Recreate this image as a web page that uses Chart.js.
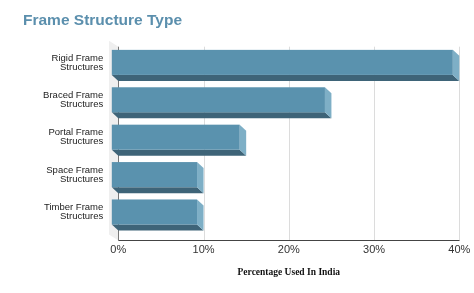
<!DOCTYPE html>
<html><head><meta charset="utf-8">
<script src="https://cdn.jsdelivr.net/npm/chart.js@4"></script>
<style>html,body{margin:0;padding:0;background:#fff}canvas{display:block}</style>
</head><body>
<canvas id="c" width="474" height="293"></canvas>
<script>
const categories = [['Rigid Frame','Structures'],['Braced Frame','Structures'],['Portal Frame','Structures'],['Space Frame','Structures'],['Timber Frame','Structures']];
const usage = [40, 25, 15, 10, 10];
const xTicks = [0, 10, 20, 30, 40];

const DX = 6.5, DY = 6;
const bar3d = {
  id: 'bar3d',
  beforeDatasetsDraw(chart) {
    const ctx = chart.ctx, a = chart.chartArea, xs = chart.scales.x;
    const floor = Math.round(a.bottom + 3.3) + 0.5, top = a.top - 3;
    const x0 = Math.round(xs.getPixelForValue(0)) + 0.5;
    ctx.save();
    ctx.fillStyle = '#efefef';
    ctx.beginPath();
    ctx.moveTo(x0 - 9.5, top - 6);
    ctx.lineTo(x0, top);
    ctx.lineTo(x0, floor);
    ctx.lineTo(x0 - 9.5, floor - 6);
    ctx.closePath(); ctx.fill();
    ctx.strokeStyle = '#dcdcdc'; ctx.lineWidth = 1;
    xTicks.forEach(v => {
      if (v === 0) return;
      const px = Math.round(xs.getPixelForValue(v)) + 0.5;
      ctx.beginPath(); ctx.moveTo(px, top); ctx.lineTo(px, floor); ctx.stroke();
    });
    ctx.strokeStyle = '#777';
    ctx.beginPath(); ctx.moveTo(x0, top); ctx.lineTo(x0, floor); ctx.stroke();
    ctx.strokeStyle = '#444';
    ctx.beginPath(); ctx.moveTo(x0, floor); ctx.lineTo(Math.round(a.right) + 0.5, floor); ctx.stroke();
    ctx.restore();
  },
  afterDatasetsDraw(chart) {
    const ctx = chart.ctx;
    ctx.save();
    chart.getDatasetMeta(0).data.forEach(el => {
      const p = el.getProps(['x', 'y', 'base', 'height'], true);
      const x1 = p.x, x0 = p.base, y0 = p.y - p.height / 2, y1 = p.y + p.height / 2;
      ctx.fillStyle = '#3e6478';
      ctx.beginPath(); ctx.moveTo(x0 - DX, y1 - DY); ctx.lineTo(x1 - DX, y1 - DY); ctx.lineTo(x1, y1); ctx.lineTo(x0, y1); ctx.closePath(); ctx.fill();
      ctx.fillStyle = '#7eafc6';
      ctx.beginPath(); ctx.moveTo(x1 - DX, y0 - DY); ctx.lineTo(x1, y0); ctx.lineTo(x1, y1); ctx.lineTo(x1 - DX, y1 - DY); ctx.closePath(); ctx.fill();
      ctx.fillStyle = '#5a92ae';
      ctx.fillRect(x0 - DX, y0 - DY, x1 - x0, y1 - y0);
    });
    ctx.restore();
  }
};

new Chart(document.getElementById('c'), {
  type: 'bar',
  data: {
    labels: categories,
    datasets: [{
      data: usage,
      backgroundColor: 'rgba(0,0,0,0)',
      borderWidth: 0,
      barPercentage: 0.67,
      categoryPercentage: 1
    }]
  },
  plugins: [bar3d],
  options: {
    indexAxis: 'y',
    responsive: false,
    animation: false,
    events: [],
    layout: { padding: { left: 23, right: 14.7, top: 0, bottom: 0 } },
    plugins: {
      legend: { display: false },
      tooltip: { enabled: false },
      title: {
        display: true,
        text: 'Frame Structure Type',
        align: 'start',
        color: '#5b8fad',
        font: { family: 'Liberation Sans, Arial, sans-serif', size: 15.5, weight: 'bold', lineHeight: 1.2 },
        padding: { top: 11, bottom: 20.1 }
      }
    },
    scales: {
      x: {
        min: 0, max: 40,
        afterFit: s => { s.height = 56.3; s.paddingLeft = 0; s.paddingRight = 0; },
        afterBuildTicks: s => { s.ticks = xTicks.map(v => ({ value: v })); },
        grid: { display: false, drawTicks: false },
        border: { display: false },
        ticks: {
          padding: 7,
          color: '#333',
          font: { family: 'Liberation Sans, Arial, sans-serif', size: 11 },
          callback: v => v + '%'
        },
        title: {
          display: true,
          text: 'Percentage Used In India',
          color: '#111',
          font: { family: 'Liberation Serif, Times New Roman, serif', size: 9.5, weight: 'bold', lineHeight: 1.2 },
          padding: { top: 0, bottom: 14.3 }
        }
      },
      y: {
        afterFit: s => { s.width = 95.3; },
        grid: { display: false, drawTicks: false },
        border: { display: false },
        ticks: {
          padding: 15,
          labelOffset: -6,
          color: '#222',
          font: { family: 'Liberation Sans, Arial, sans-serif', size: 9.5, lineHeight: 0.95 }
        }
      }
    }
  }
});
</script>
</body></html>
